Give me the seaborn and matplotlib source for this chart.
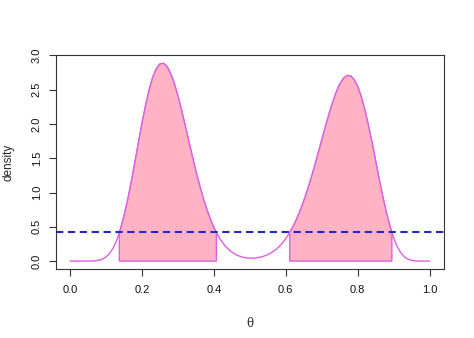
import numpy as np
import pandas as pd
import matplotlib
matplotlib.use("Agg")
import matplotlib.pyplot as plt
import seaborn as sns

# ---- data ----
theta = [round(i / 100, 2) for i in range(101)]
density = [
    0.0, 0.0, 0.0, 0.0, 0.0, 0.0003, 0.0013, 0.0044, 0.0121, 0.0286,
    0.0597, 0.1119, 0.1924, 0.3076, 0.4617, 0.6557, 0.887, 1.148, 1.432, 1.723,
    2.008, 2.268, 2.499, 2.681, 2.807, 2.875, 2.884, 2.835, 2.732, 2.588,
    2.408, 2.201, 1.982, 1.752, 1.528, 1.311, 1.109, 0.923, 0.758, 0.613,
    0.489, 0.386, 0.299, 0.229, 0.174, 0.131, 0.098, 0.074, 0.057, 0.047,
    0.043, 0.043, 0.048, 0.058, 0.074, 0.095, 0.123, 0.159, 0.204, 0.260,
    0.327, 0.407, 0.502, 0.611, 0.736, 0.876, 1.033, 1.201, 1.383, 1.573,
    1.765, 1.956, 2.140, 2.312, 2.460, 2.581, 2.662, 2.705, 2.702, 2.648,
    2.547, 2.396, 2.201, 1.974, 1.723, 1.456, 1.189, 0.934, 0.702, 0.501,
    0.336, 0.210, 0.119, 0.061, 0.027, 0.010, 0.003, 0.0, 0.0, 0.0,
    0.0,
]
hpd_lo = [0.137, 0.611]
hpd_hi = [0.407, 0.895]
level = 0.42
x_ticks = [0.0, 0.2, 0.4, 0.6, 0.8, 1.0]
x_ticklabels = ["0.0", "0.2", "0.4", "0.6", "0.8", "1.0"]
y_ticks = [0.0, 0.5, 1.0, 1.5, 2.0, 2.5, 3.0]
y_ticklabels = ["0.0", "0.5", "1.0", "1.5", "2.0", "2.5", "3.0"]

df = pd.DataFrame({"theta": theta, "density": density})

sns.set_theme(style="ticks")
plt.rcParams["font.family"] = ["Liberation Sans", "DejaVu Sans"]

CURVE = "#dc5fdc"
FILL = "#ffb3c4"
BLUE = "#2626c8"

fig = plt.figure(figsize=(4.74, 3.38), dpi=100)
ax = fig.add_axes([55.7 / 474, 1 - 269 / 338, (444 - 55.7) / 474, (269 - 55) / 338])

sns.lineplot(data=df, x="theta", y="density", ax=ax, color=CURVE, lw=1.0,
             estimator=None, sort=False, zorder=2)

th = np.array(theta)
de = np.array(density)
for lo, hi in zip(hpd_lo, hpd_hi):
    inside = (th > lo) & (th < hi)
    xs = np.concatenate([[lo, lo], th[inside], [hi, hi, lo]])
    ys = np.concatenate([[0, level], de[inside], [level, 0, 0]])
    ax.fill(xs, ys, facecolor=FILL, edgecolor=CURVE, lw=1.0, zorder=3)

ax.axhline(level, color=BLUE, lw=1.5, ls=(0, (3.5, 2.2)), zorder=4)

ax.set_xlim(-0.04, 1.04)
ax.set_ylim(-0.1156, 3.0056)
ax.set_xticks(x_ticks)
ax.set_xticklabels(x_ticklabels)
ax.set_yticks(y_ticks)
ax.set_yticklabels(y_ticklabels, rotation=90, va="center")

for s in ax.spines.values():
    s.set_visible(True)
    s.set_color("#333333")
    s.set_linewidth(0.8)

ax.tick_params(axis="both", direction="out", length=5, width=0.8,
               color="#333333", labelsize=8, labelcolor="#111111")
ax.tick_params(axis="x", pad=6.5)
ax.tick_params(axis="y", pad=5)

ax.set_xlabel("θ", fontsize=8.5, family=["DejaVu Serif"])
ax.set_ylabel("density", fontsize=8.5)
ax.xaxis.set_label_coords(0.5, -0.224)
ax.yaxis.set_label_coords(-0.105, 0.5)

fig.savefig("out.png", dpi=100)
